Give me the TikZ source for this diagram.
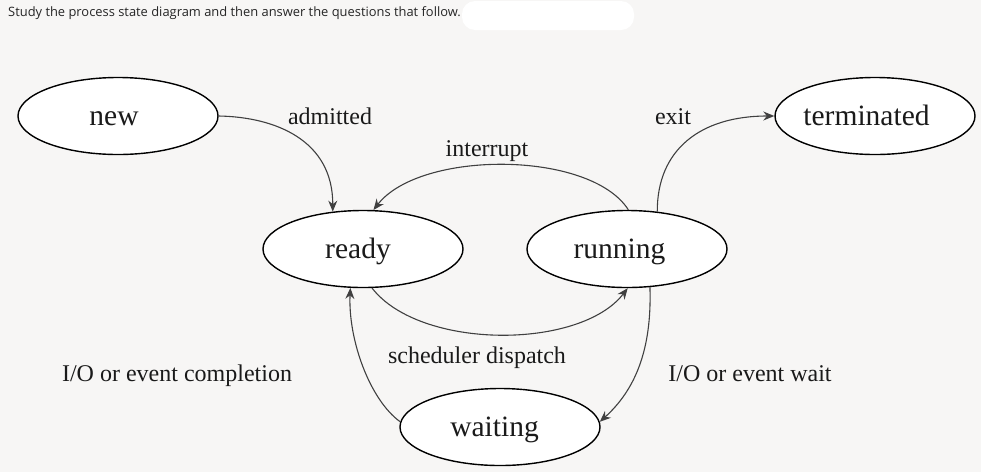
\documentclass[tikz,border=0pt]{standalone}
\usepackage{fontspec}
\setmainfont{Liberation Serif}
\newfontfamily\headfont{Open Sans}
\usetikzlibrary{arrows.meta,shapes.geometric}
\definecolor{bgc}{HTML}{F7F6F5}
\definecolor{edgec}{HTML}{404040}
\definecolor{txtc}{HTML}{1A1A1A}
\newcommand{\shiftl}[2]{\kern-#1pt\relax #2}
\tikzset{
  state/.style={ellipse, draw=black, line width=1.4pt, fill=white,
    minimum width=200pt, minimum height=77pt, inner sep=0pt,
    text height=18pt, text depth=0pt, text=txtc,
    font=\fontsize{29.5}{32}\selectfont},
  elabel/.style={anchor=base, inner sep=0pt, text=txtc,
    font=\fontsize{24}{28}\selectfont},
  edge/.style={draw=edgec, line width=1.1pt,
    -{Stealth[length=11pt,width=9pt]}}
}
\begin{document}
\begin{tikzpicture}[x=1pt,y=-1pt]
\fill[bgc] (0,0) rectangle (981,472);
\useasboundingbox (0,0) rectangle (981,472);
% header
\node[anchor=base west, inner sep=0pt, text=black!85,
  font=\headfont\fontsize{12.9}{14}\selectfont] (header) at (8,16)
  {Study the process state diagram and then answer the questions that follow.};
\fill[white, rounded corners=13pt] (462,1) rectangle (634,30);
% states
\node[state] (new) at (118,116) {\shiftl{8}{new}};
\node[state] (terminated) at (875,116) {\shiftl{17}{terminated}};
\node[state] (ready) at (363,249) {\shiftl{10}{ready}};
\node[state] (running) at (627,249) {\shiftl{15}{running}};
\node[state] (waiting) at (500,427) {\shiftl{11}{waiting}};
% labels
\node[elabel] (ladmitted) at (330,124) {admitted};
\node[elabel] (linterrupt) at (487,156) {interrupt};
\node[elabel] (lexit) at (673,124) {exit};
\node[elabel] (lsched) at (477,363) {scheduler dispatch};
\node[elabel] (lcompl) at (177,381) {I/O or event completion};
\node[elabel] (lwait) at (750,381) {I/O or event wait};
% edges
\draw[edge] (new.east) .. controls (275,117) and (333,140) .. (ready.129);
\draw[edge] (running.88) .. controls (590,150) and (420,150) .. (ready.75);
\draw[edge] (running.51) .. controls (657,150) and (700,116) .. (terminated.west);
\draw[edge] (ready.-77) .. controls (420,350) and (580,350) .. (running.-89);
\draw[edge] (running.-59) .. controls (652,350) and (635,390) .. (waiting.3.5);
\draw[edge] (waiting.177) .. controls (370,400) and (348,340) .. (ready.-108);
\end{tikzpicture}
\end{document}
